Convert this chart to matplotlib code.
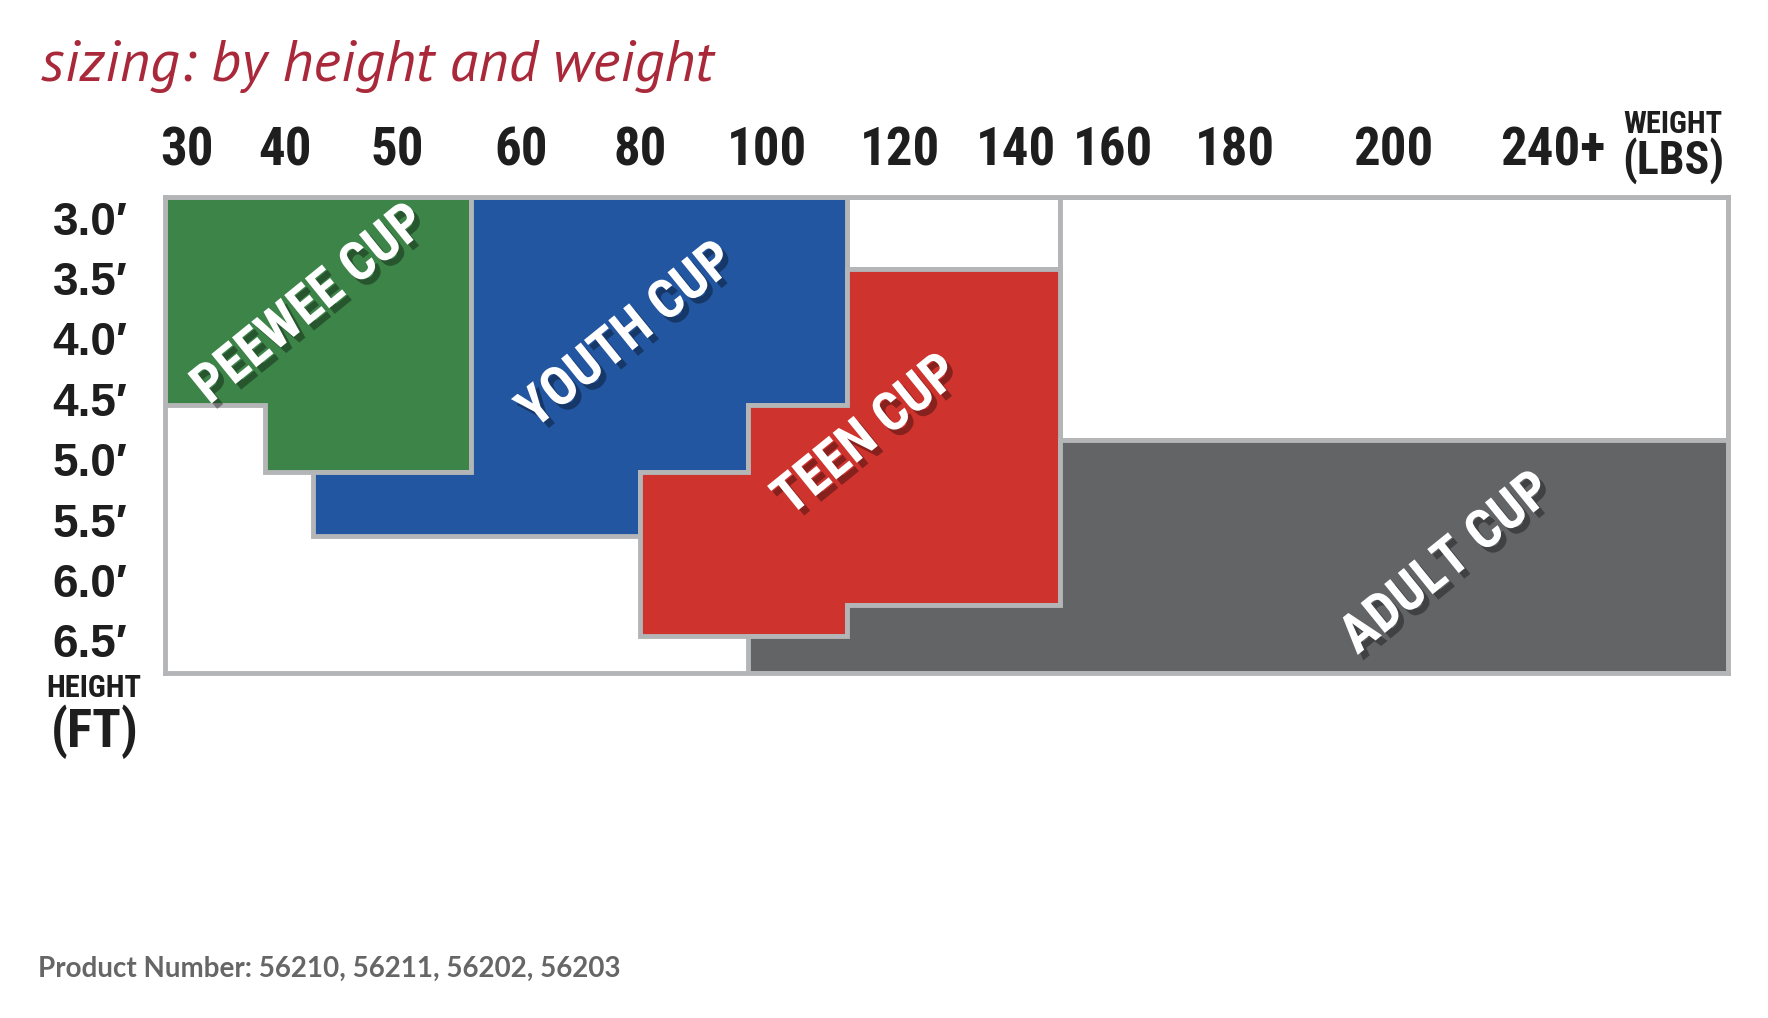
import numpy as np
import matplotlib.pyplot as plt
import matplotlib.patheffects as pe
from matplotlib.patches import Polygon

# weight axis (lbs), along the top
weight_ticks = [30, 40, 50, 60, 80, 100, 120, 140, 160, 180, 200, 240]
weight_labels = ['30', '40', '50', '60', '80', '100', '120', '140', '160', '180', '200', '240+']

# height axis (ft), down the left
height_ticks = [3.0, 3.5, 4.0, 4.5, 5.0, 5.5, 6.0, 6.5]
height_labels = ['3.0′', '3.5′', '4.0′', '4.5′', '5.0′', '5.5′', '6.0′', '6.5′']

# whole chart range
w_range = (28, 284)
h_range = (2.83, 6.77)

# cup regions as (weight, height) corners
cups = ['PEEWEE CUP', 'YOUTH CUP', 'TEEN CUP', 'ADULT CUP']
peewee_w = [28, 56, 56, 38, 38, 28]
peewee_h = [2.83, 2.83, 5.11, 5.11, 4.55, 4.55]
youth_w = [56, 112, 112, 97, 97, 80, 80, 42.5, 42.5, 56]
youth_h = [2.83, 2.83, 4.55, 4.55, 5.11, 5.11, 5.64, 5.64, 5.11, 5.11]
teen_w = [112, 149, 149, 112, 112, 80, 80, 97, 97, 112]
teen_h = [3.43, 3.43, 6.21, 6.21, 6.46, 6.46, 5.11, 5.11, 4.55, 4.55]
adult_w = [149, 284, 284, 97, 97, 112, 112, 149]
adult_h = [4.84, 4.84, 6.77, 6.77, 6.46, 6.46, 6.21, 6.21]
# empty cells at the top right
blank1_w = [112, 149, 149, 112]
blank1_h = [2.83, 2.83, 3.43, 3.43]
blank2_w = [149, 284, 284, 149]
blank2_h = [2.83, 2.83, 4.84, 4.84]

cup_colors = ['#3c8447', '#2356a0', '#cf332e', '#636466']
edge = '#b3b5b7'
ink = '#1e1e1e'

cond = ['Roboto Condensed', 'DejaVu Sans']
bold = ['Liberation Sans', 'DejaVu Sans']

fig = plt.figure(figsize=(17.68, 10.18), dpi=100)
ax = fig.add_axes([165 / 1768, 1 - 673 / 1018, 1563 / 1768, 476 / 1018])

# the graphic spaces the weights unevenly
scale_w = [28] + weight_ticks + [284]
scale_pos = [0, 0.0141, 0.0768, 0.1484, 0.2278, 0.3039, 0.3852, 0.4702,
             0.5445, 0.6065, 0.6846, 0.7857, 0.8880, 1.0]
ax.set_xscale('function', functions=(lambda w: np.interp(w, scale_w, scale_pos),
                                     lambda p: np.interp(p, scale_pos, scale_w)))
ax.set_xlim(*w_range)
ax.set_ylim(h_range[1], h_range[0])

shapes = [(blank1_w, blank1_h, 'white'), (blank2_w, blank2_h, 'white'),
          (peewee_w, peewee_h, cup_colors[0]), (youth_w, youth_h, cup_colors[1]),
          (teen_w, teen_h, cup_colors[2]), (adult_w, adult_h, cup_colors[3])]
for ws, hs, c in shapes:
    ax.add_patch(Polygon(np.column_stack([ws, hs]), closed=True, facecolor=c,
                         edgecolor=edge, lw=3.5, joinstyle='miter'))

for s in ax.spines.values():
    s.set_color(edge)
    s.set_linewidth(3.5)
    s.set_zorder(5)

ax.set_xticks(weight_ticks)
ax.set_xticklabels(weight_labels, family=cond, weight='bold', fontsize=38)
ax.xaxis.set_minor_locator(plt.NullLocator())
ax.xaxis.tick_top()
ax.tick_params(axis='x', length=0, pad=15, colors=ink)
ax.set_yticks(height_ticks)
ax.set_yticklabels(height_labels, family=bold, weight='bold', fontsize=33)
ax.tick_params(axis='y', length=0, pad=27, colors=ink)

# cup names, axes fractions
label_pos = [(0.0928, 0.773), (0.2956, 0.708), (0.4491, 0.498), (0.8202, 0.229)]
shadow = [pe.SimplePatchShadow(offset=(4, -4), shadow_rgbFace='black', alpha=0.35), pe.Normal()]
for name, (x, y) in zip(cups, label_pos):
    ax.text(x, y, name, transform=ax.transAxes, rotation=39, rotation_mode='anchor',
            ha='center', va='center', color='white', fontsize=39, weight='bold',
            family=cond, path_effects=shadow, zorder=6)

fig.text(0.0232, 0.9204, 'sizing: by height and weight', color='#a9293a',
         fontsize=42, style='italic', family=['PT Sans', 'DejaVu Sans'], va='baseline')
fig.text(0.9463, 0.8782, 'WEIGHT', ha='center', va='center', fontsize=22,
         weight='bold', family=cond, color=ink)
fig.text(0.9463, 0.8428, '(LBS)', ha='center', va='center', fontsize=33,
         weight='bold', family=cond, color=ink)
fig.text(0.0532, 0.3242, 'HEIGHT', ha='center', va='center', fontsize=22,
         weight='bold', family=cond, color=ink)
fig.text(0.0537, 0.281, '(FT)', ha='center', va='center', fontsize=38,
         weight='bold', family=cond, color=ink)
fig.text(0.0215, 0.0481, 'Product Number: 56210, 56211, 56202, 56203', color='#666666',
         fontsize=20, weight='bold', family=['Lato', 'DejaVu Sans'], va='center')

fig.savefig('out.png', dpi=100)
